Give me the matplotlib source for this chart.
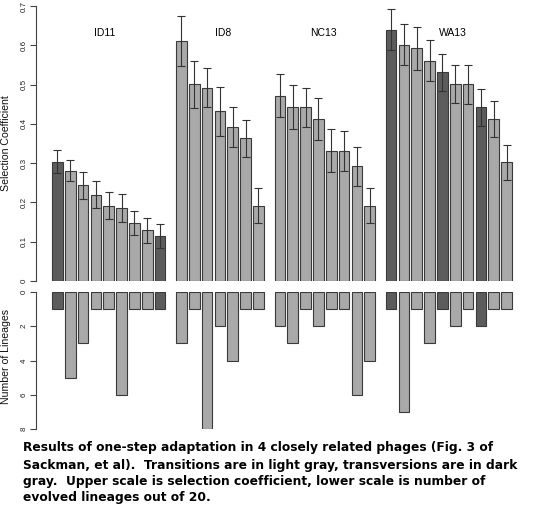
import matplotlib
matplotlib.use("Agg")
import matplotlib.pyplot as plt
import numpy as np

groups = ["ID11", "ID8", "NC13", "WA13"]

# selection coefficients per group
sel_ID11 = [0.304, 0.281, 0.244, 0.220, 0.192, 0.185, 0.147, 0.129, 0.115]
sel_ID8 = [0.611, 0.501, 0.492, 0.432, 0.392, 0.363, 0.192]
sel_NC13 = [0.472, 0.442, 0.442, 0.412, 0.332, 0.332, 0.292, 0.192]
sel_WA13 = [0.640, 0.602, 0.592, 0.561, 0.531, 0.501, 0.501, 0.442, 0.412, 0.302]

# error (half-width)
err_ID11 = [0.030, 0.026, 0.034, 0.034, 0.034, 0.036, 0.031, 0.032, 0.031]
err_ID8 = [0.063, 0.060, 0.050, 0.063, 0.051, 0.047, 0.045]
err_NC13 = [0.054, 0.056, 0.049, 0.054, 0.055, 0.051, 0.049, 0.045]
err_WA13 = [0.053, 0.052, 0.054, 0.053, 0.048, 0.048, 0.050, 0.047, 0.046, 0.045]

# number of lineages out of 20
n_ID11 = [1, 5, 3, 1, 1, 6, 1, 1, 1]
n_ID8 = [3, 1, 8, 2, 4, 1, 1]
n_NC13 = [2, 3, 1, 2, 1, 1, 6, 4]
n_WA13 = [1, 7, 1, 3, 1, 2, 1, 2, 1, 1]

# transversion (1 = dark gray) vs transition (0 = light gray)
tv_ID11 = [1, 0, 0, 0, 0, 0, 0, 0, 1]
tv_ID8 = [0, 0, 0, 0, 0, 0, 0]
tv_NC13 = [0, 0, 0, 0, 0, 0, 0, 0]
tv_WA13 = [1, 0, 0, 0, 1, 0, 0, 1, 0, 0]

sel = [sel_ID11, sel_ID8, sel_NC13, sel_WA13]
err = [err_ID11, err_ID8, err_NC13, err_WA13]
cnt = [n_ID11, n_ID8, n_NC13, n_WA13]
tv = [tv_ID11, tv_ID8, tv_NC13, tv_WA13]

sel_ticks = [0, 0.1, 0.2, 0.3, 0.4, 0.5, 0.6, 0.7]
sel_ticklabels = ["0", "0.1", "0.2", "0.3", "0.4", "0.5", "0.6", "0.7"]
n_ticks = [0, 2, 4, 6, 8]

caption = ["Results of one-step adaptation in 4 closely related phages (Fig. 3 of",
           "Sackman, et al).  Transitions are in light gray, transversions are in dark",
           "gray.  Upper scale is selection coefficient, lower scale is number of",
           "evolved lineages out of 20."]

LIGHT = "#a9a9a9"
DARK = "#5c5c5c"
EDGE = "#3a3a3a"

W, H = 539, 512
fig = plt.figure(figsize=(W / 100, H / 100), dpi=100)
plt.rcParams['font.family'] = ['Liberation Sans', 'DejaVu Sans']

left_px, right_px = 36, 530
top_ax = fig.add_axes([left_px / W, (H - 281) / H, (right_px - left_px) / W, 275 / H])
bot_ax = fig.add_axes([left_px / W, (H - 429) / H, (right_px - left_px) / W, 137 / H])

# bar positions: width 1, space 0.2 inside groups, 1 between groups
centers = []
x = 0.2
for gi, g in enumerate(sel):
    cs = []
    for i in range(len(g)):
        if i > 0:
            x += 0.2
        cs.append(x + 0.5)
        x += 1.0
    centers.append(cs)
    x += 1.0

for gi in range(4):
    cols = [DARK if t else LIGHT for t in tv[gi]]
    top_ax.bar(centers[gi], sel[gi], width=1.0, color=cols, edgecolor=EDGE, linewidth=0.8)
    top_ax.errorbar(centers[gi], sel[gi], yerr=err[gi], fmt='none', ecolor="#333333",
                    elinewidth=0.8, capsize=2.6, capthick=0.8)
    bot_ax.bar(centers[gi], cnt[gi], width=1.0, color=cols, edgecolor=EDGE, linewidth=0.8)

# group labels
label_x_px = [105, 223, 323, 453]
for gi, name in enumerate(groups):
    top_ax.text(label_x_px[gi] / W, (H - 33) / H, name, transform=fig.transFigure,
                ha='center', va='center', fontsize=7.5)

xlim = (0.2 - 16 / 10.7, 43.2 + 18 / 10.7)
for ax in (top_ax, bot_ax):
    ax.set_xlim(*xlim)
    ax.set_xticks([])
    for s in ("top", "right", "bottom"):
        ax.spines[s].set_visible(False)
    ax.spines["left"].set_color("#444444")
    ax.spines["left"].set_linewidth(0.8)
    ax.tick_params(axis='y', length=4, width=0.8, color="#444444", labelsize=5.8,
                   labelcolor="#222222", pad=2)
    ax.patch.set_alpha(0)

top_ax.set_ylim(0, 0.7)
top_ax.set_yticks(sel_ticks)
top_ax.set_yticklabels(sel_ticklabels, rotation=90, va='center')

bot_ax.set_ylim(8, 0)
bot_ax.set_yticks(n_ticks)
bot_ax.set_yticklabels([str(t) for t in n_ticks], rotation=90, va='center')

fig.text(6 / W, (H - 143) / H, "Selection Coefficient", rotation=90, ha='center',
         va='center', fontsize=7.6, color="#111111")
fig.text(6 / W, (H - 357) / H, "Number of Lineages", rotation=90, ha='center',
         va='center', fontsize=7.6, color="#111111")

line_y = [448, 465, 481, 497]
for txt, yy in zip(caption, line_y):
    fig.text(23 / W, (H - yy) / H, txt, ha='left', va='center', fontsize=8.85,
             fontweight='bold', family=['DejaVu Sans'], color='black')

fig.savefig("out.png", dpi=100)
